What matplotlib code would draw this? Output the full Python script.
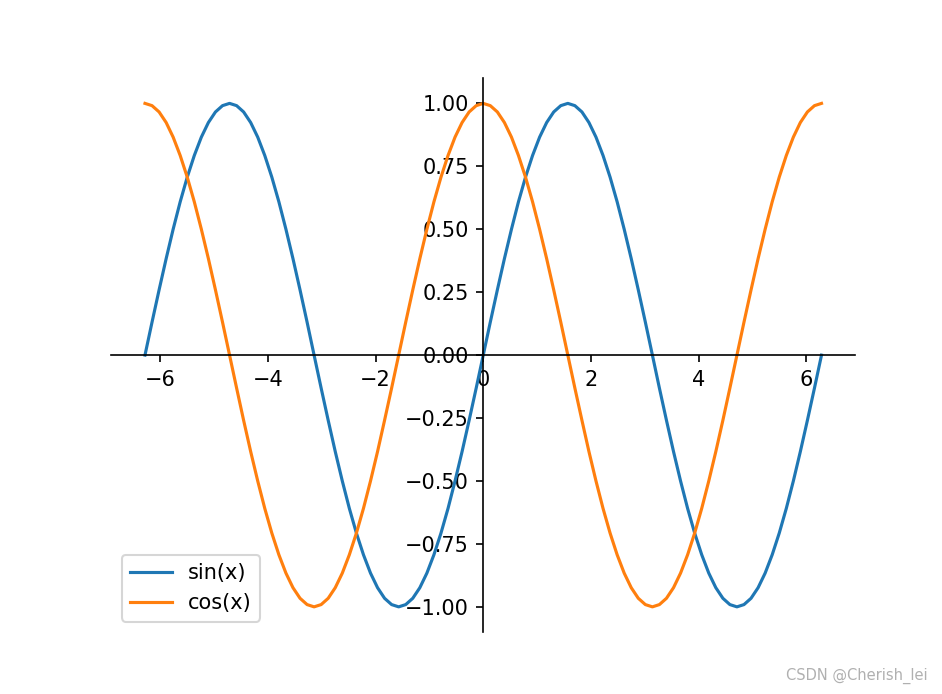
import matplotlib
matplotlib.use("Agg")
import matplotlib.pyplot as plt

# sample points from 0 to 2pi (step pi/24), mirrored for the negative side
x_pos = [0.000, 0.131, 0.262, 0.393, 0.524, 0.654, 0.785, 0.916, 1.047,
         1.178, 1.309, 1.440, 1.571, 1.702, 1.833, 1.963, 2.094,
         2.225, 2.356, 2.487, 2.618, 2.749, 2.880, 3.011, 3.142,
         3.272, 3.403, 3.534, 3.665, 3.796, 3.927, 4.058, 4.189,
         4.320, 4.451, 4.581, 4.712, 4.843, 4.974, 5.105, 5.236,
         5.367, 5.498, 5.629, 5.760, 5.890, 6.021, 6.152, 6.283]
x_vals = [-v for v in x_pos[::-1]] + x_pos[1:]

sin_period = [0.0, 0.131, 0.259, 0.383, 0.500, 0.609, 0.707, 0.793, 0.866,
              0.924, 0.966, 0.991, 1.0, 0.991, 0.966, 0.924, 0.866,
              0.793, 0.707, 0.609, 0.500, 0.383, 0.259, 0.131, 0.0,
              -0.131, -0.259, -0.383, -0.500, -0.609, -0.707, -0.793, -0.866,
              -0.924, -0.966, -0.991, -1.0, -0.991, -0.966, -0.924, -0.866,
              -0.793, -0.707, -0.609, -0.500, -0.383, -0.259, -0.131, 0.0]
cos_period = [1.0, 0.991, 0.966, 0.924, 0.866, 0.793, 0.707, 0.609, 0.500,
              0.383, 0.259, 0.131, 0.0, -0.131, -0.259, -0.383, -0.500,
              -0.609, -0.707, -0.793, -0.866, -0.924, -0.966, -0.991, -1.0,
              -0.991, -0.966, -0.924, -0.866, -0.793, -0.707, -0.609, -0.500,
              -0.383, -0.259, -0.131, 0.0, 0.131, 0.259, 0.383, 0.500,
              0.609, 0.707, 0.793, 0.866, 0.924, 0.966, 0.991, 1.0]
sin_vals = sin_period + sin_period[1:]
cos_vals = cos_period + cos_period[1:]

fig = plt.figure(figsize=(6.28, 4.6267), dpi=150)
ax = fig.add_axes([0.118, 0.0893, 0.790, 0.798])

ax.plot(x_vals, sin_vals, label='sin(x)')
ax.plot(x_vals, cos_vals, label='cos(x)')

# move spines to the origin
ax.spines['right'].set_visible(False)
ax.spines['top'].set_visible(False)
ax.spines['left'].set_position(('data', 0))
ax.spines['bottom'].set_position(('data', 0))

ax.legend(loc='lower left')

fig.text(0.985, 0.015, 'CSDN @Cherish_lei', ha='right', va='bottom',
         fontsize=7, color='#b0b0b0')

fig.savefig('out.png', dpi=150)
